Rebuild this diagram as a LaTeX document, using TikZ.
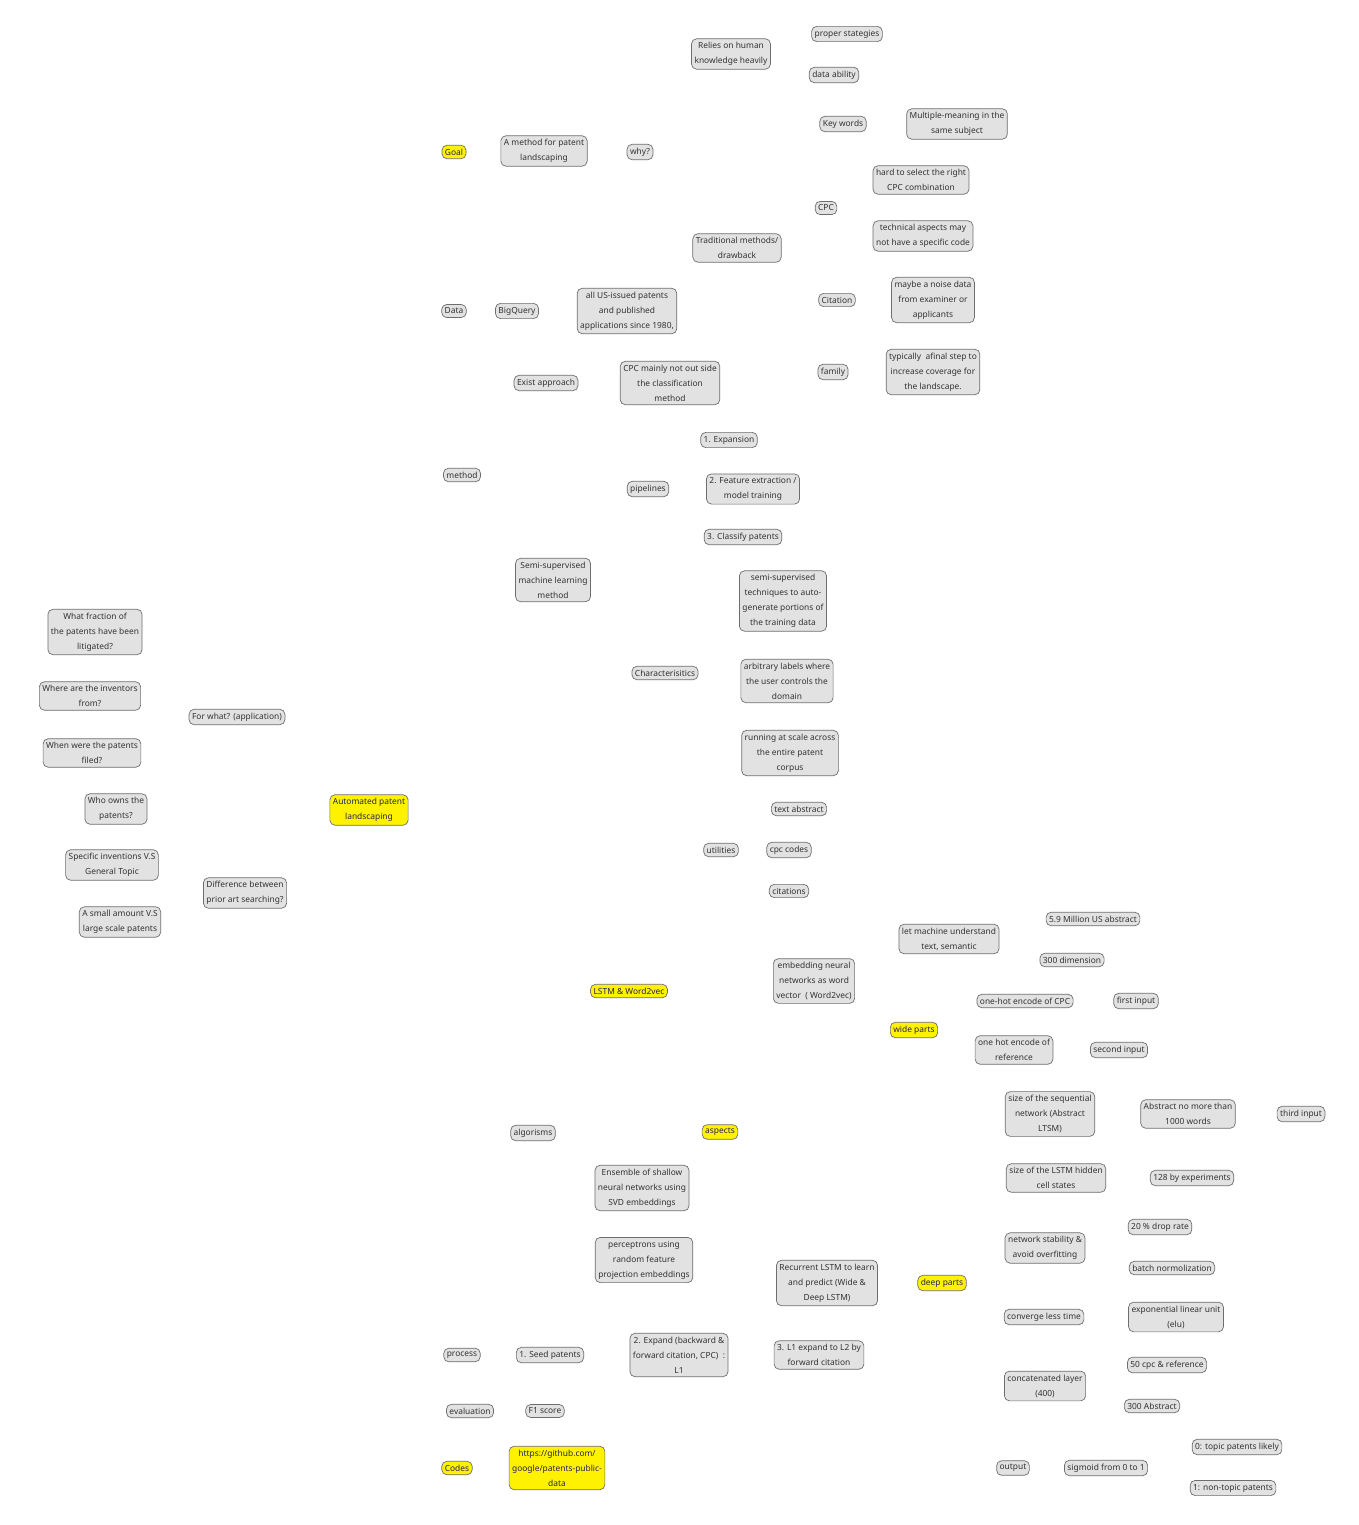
\documentclass[tikz,border=0pt]{standalone}
\usepackage{fontspec}
\setmainfont{Noto Sans}
\pgfdeclarelayer{bg}
\pgfsetlayers{bg,main}
\definecolor{boxfill}{HTML}{E2E2E2}
\definecolor{boxline}{HTML}{6E6E6E}
\definecolor{txt}{HTML}{333333}
\definecolor{ytxt}{HTML}{24245A}
\tikzset{
  mm/.style={draw=boxline, fill=boxfill, rounded corners=5pt, align=center, text=txt,
    font=\fontsize{8.4}{15}\selectfont\bfseries, inner xsep=3pt, inner ysep=3.5pt, line width=0.7pt},
  hl/.style={mm, fill=yellow, text=ytxt},
  cn/.style={draw=black!70, line width=0.6pt}
}
\newcommand{\cu}[2]{\begin{pgfonlayer}{bg}\draw[cn] (#1.center) to[out=90,in=180] (#2.west);\end{pgfonlayer}}
\newcommand{\cd}[2]{\begin{pgfonlayer}{bg}\draw[cn] (#1.center) to[out=-90,in=180] (#2.west);\end{pgfonlayer}}
\newcommand{\ce}[2]{\begin{pgfonlayer}{bg}\draw[cn] (#1.east) to[out=0,in=180] (#2.west);\end{pgfonlayer}}
\newcommand{\lu}[2]{\begin{pgfonlayer}{bg}\draw[cn] (#1.center) to[out=90,in=0] (#2.east);\end{pgfonlayer}}
\newcommand{\ld}[2]{\begin{pgfonlayer}{bg}\draw[cn] (#1.center) to[out=-90,in=0] (#2.east);\end{pgfonlayer}}
\newcommand{\lse}[2]{\begin{pgfonlayer}{bg}\draw[cn] (#1.west) to[out=180,in=0] (#2.east);\end{pgfonlayer}}
\begin{document}
\begin{tikzpicture}[x=1pt,y=-1pt]
\fill[white] (0,0) rectangle (1358,1525);
\useasboundingbox (0,0) rectangle (1358,1525);
\node[hl] (root) at (369,810) {Automated patent\\landscaping};
% Goal
\node[hl] (goal) at (454,152) {Goal};
\node[mm] (meth) at (544,151) {A method for patent\\landscaping};
\node[mm] (why) at (640,152) {why?};
\node[mm] (rel) at (731,54) {Relies on human\\knowledge heavily};
\node[mm] (prop) at (847,34) {proper stategies};
\node[mm] (dab) at (834,75) {data ability};
\node[mm] (trad) at (737,248) {Traditional methods/\\drawback};
\node[mm] (kw) at (843,124) {Key words};
\node[mm] (mult) at (957,124) {Multiple-meaning in the\\same subject};
\node[mm] (cpc) at (826,208) {CPC};
\node[mm] (hard) at (921,180) {hard to select the right\\CPC combination};
\node[mm] (tech) at (923,236) {technical aspects may\\not have a specific code};
\node[mm] (cit) at (837,300) {Citation};
\node[mm] (noise) at (933,300) {maybe a noise data\\from examiner or\\applicants};
\node[mm] (fam) at (833,372) {family};
\node[mm] (typ) at (933,372) {typically \ afinal step to\\increase coverage for\\the landscape.};
% Data
\node[mm] (data) at (454,311) {Data};
\node[mm] (bq) at (517,311) {BigQuery};
\node[mm] (allus) at (627,311) {all US-issued patents\\and published\\applications since 1980,};
% method
\node[mm] (method) at (462,475) {method};
\node[mm] (exist) at (546,383) {Exist approach};
\node[mm] (cpcm) at (670,383) {CPC mainly not out side\\the classification\\method};
\node[mm] (semi) at (553,580) {Semi-supervised\\machine learning\\method};
\node[mm] (pipe) at (648,489) {pipelines};
\node[mm] (p1) at (729,440) {1. Expansion};
\node[mm] (p2) at (753,489) {2. Feature extraction /\\model training};
\node[mm] (p3) at (743,537) {3. Classify patents};
\node[mm] (char) at (665,673) {Characterisitics};
\node[mm] (c1) at (783,601) {semi-supervised\\techniques to auto-\\generate portions of\\the training data};
\node[mm] (c2) at (787,681) {arbitrary labels where\\the user controls the\\domain};
\node[mm] (c3) at (790,753) {running at scale across\\the entire patent\\corpus};
\node[mm] (alg) at (533,1133) {algorisms};
\node[hl] (lstm) at (629,991) {LSTM \& Word2vec};
\node[mm] (util) at (721,850) {utilities};
\node[mm] (u1) at (799,809) {text abstract};
\node[mm] (u2) at (789,850) {cpc codes};
\node[mm] (u3) at (789,891) {citations};
\node[hl] (asp) at (720,1132) {aspects};
\node[mm] (emb) at (814,981) {embedding neural\\networks as word\\vector \ ( Word2vec)};
\node[mm] (let) at (949,939) {let machine understand\\text, semantic};
\node[mm] (m59) at (1093,919) {5.9 Million US abstract};
\node[mm] (d300) at (1072,960) {300 dimension};
\node[hl] (wide) at (914,1030) {wide parts};
\node[mm] (ohc) at (1025,1001) {one-hot encode of CPC};
\node[mm] (fi) at (1136,1001) {first input};
\node[mm] (ohr) at (1014,1050) {one hot encode of\\reference};
\node[mm] (si) at (1119,1050) {second input};
\node[mm] (rec) at (827,1283) {Recurrent LSTM to learn\\and predict (Wide \&\\Deep LSTM)};
\node[hl] (deep) at (942,1283) {deep parts};
\node[mm] (sz) at (1050,1114) {size of the sequential\\network (Abstract\\LTSM)};
\node[mm] (abs) at (1188,1114) {Abstract no more than\\1000 words};
\node[mm] (ti) at (1301,1114) {third input};
\node[mm] (szh) at (1056,1178) {size of the LSTM hidden\\cell states};
\node[mm] (e128) at (1192,1178) {128 by experiments};
\node[mm] (net) at (1045,1248) {network stability \&\\avoid overfitting};
\node[mm] (drop) at (1160,1227) {20 \% drop rate};
\node[mm] (bn) at (1172,1268) {batch normolization};
\node[mm] (conv) at (1044,1317) {converge less time};
\node[mm] (elu) at (1176,1317) {exponential linear unit\\(elu)};
\node[mm] (conc) at (1045,1386) {concatenated layer\\(400)};
\node[mm] (c50) at (1167,1365) {50 cpc \& reference};
\node[mm] (a300) at (1152,1406) {300 Abstract};
\node[mm] (out) at (1013,1468) {output};
\node[mm] (sig) at (1106,1468) {sigmoid from 0 to 1};
\node[mm] (o0) at (1237,1447) {0: topic patents likely};
\node[mm] (o1) at (1233,1488) {1: non-topic patents};
\node[mm] (ens) at (642,1188) {Ensemble of shallow\\neural networks using\\SVD embeddings};
\node[mm] (perc) at (644,1260) {perceptrons using\\random feature\\projection embeddings};
% process etc.
\node[mm] (proc) at (462,1355) {process};
\node[mm] (s1) at (550,1355) {1. Seed patents};
\node[mm] (s2) at (679,1355) {2. Expand (backward \&\\forward citation, CPC) \ :\\L1};
\node[mm] (s3) at (819,1355) {3. L1 expand to L2 by\\forward citation};
\node[mm] (ev) at (470,1411) {evaluation};
\node[mm] (f1) at (545,1411) {F1 score};
\node[hl] (codes) at (457,1468) {Codes};
\node[hl] (url) at (557,1468) {https://github.com/\\google/patents-public-\\data};
% left
\node[mm] (forw) at (237,717) {For what? (application)};
\node[mm] (l1) at (95,632) {What fraction of\\the patents have been\\litigated?};
\node[mm] (l2) at (90,696) {Where are the inventors\\from?};
\node[mm] (l3) at (92,753) {When were the patents\\filed?};
\node[mm] (l4) at (116,809) {Who owns the\\patents?};
\node[mm] (diff) at (245,893) {Difference between\\prior art searching?};
\node[mm] (l5) at (112,865) {Specific inventions V.S\\General Topic};
\node[mm] (l6) at (120,922) {A small amount V.S\\large scale patents};
% connectors
\cu{root}{goal}\cu{root}{data}\cu{root}{method}
\cd{root}{proc}\cd{root}{ev}\cd{root}{codes}
\ce{goal}{meth}\ce{meth}{why}\cu{why}{rel}\cd{why}{trad}
\ce{rel}{prop}\ce{rel}{dab}
\cu{trad}{kw}\cu{trad}{cpc}\cd{trad}{cit}\cd{trad}{fam}
\ce{kw}{mult}\ce{cpc}{hard}\ce{cpc}{tech}\ce{cit}{noise}\ce{fam}{typ}
\ce{data}{bq}\ce{bq}{allus}
\cu{method}{exist}\cd{method}{semi}\cd{method}{alg}
\ce{exist}{cpcm}
\cu{semi}{pipe}\cd{semi}{char}
\cu{pipe}{p1}\ce{pipe}{p2}\cd{pipe}{p3}
\cu{char}{c1}\ce{char}{c2}\cd{char}{c3}
\cu{alg}{lstm}\cd{alg}{ens}\cd{alg}{perc}
\cu{lstm}{util}\cd{lstm}{asp}
\cu{util}{u1}\ce{util}{u2}\cd{util}{u3}
\cu{asp}{emb}\cd{asp}{rec}
\cu{emb}{let}\cd{emb}{wide}
\ce{let}{m59}\ce{let}{d300}
\ce{wide}{ohc}\ce{wide}{ohr}
\ce{ohc}{fi}\ce{ohr}{si}
\ce{rec}{deep}
\cu{deep}{sz}\cu{deep}{szh}\cu{deep}{net}\cd{deep}{conv}\cd{deep}{conc}\cd{deep}{out}
\ce{sz}{abs}\ce{abs}{ti}\ce{szh}{e128}
\ce{net}{drop}\ce{net}{bn}\ce{conv}{elu}
\ce{conc}{c50}\ce{conc}{a300}
\ce{out}{sig}\ce{sig}{o0}\ce{sig}{o1}
\ce{proc}{s1}\ce{s1}{s2}\ce{s2}{s3}
\ce{ev}{f1}\ce{codes}{url}
\lu{root}{forw}\ld{root}{diff}
\lu{forw}{l1}\lse{forw}{l2}\ld{forw}{l3}\ld{forw}{l4}
\lse{diff}{l5}\lse{diff}{l6}
\end{tikzpicture}
\end{document}
